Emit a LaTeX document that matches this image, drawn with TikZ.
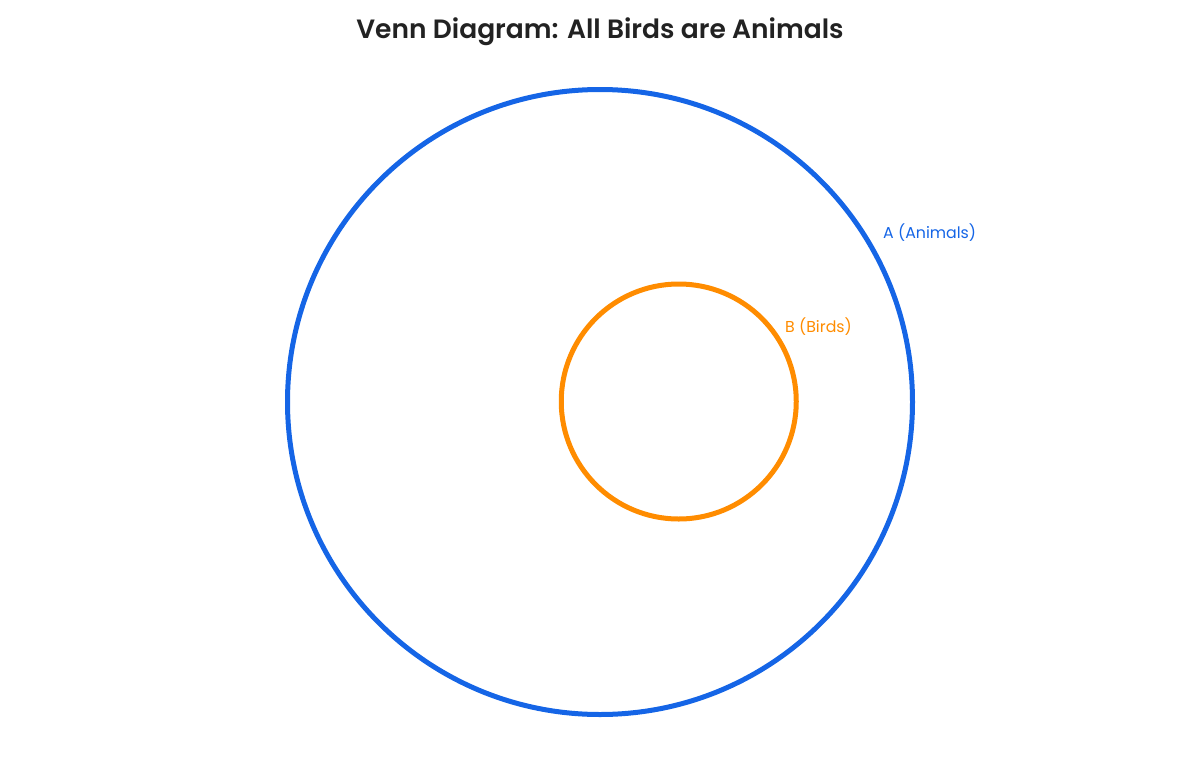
\documentclass[tikz,border=0pt]{standalone}
\usepackage{fontspec}
\setmainfont{Poppins}[BoldFont={Poppins SemiBold}]
\definecolor{animalblue}{HTML}{1565E6}
\definecolor{birdorange}{HTML}{FF8C00}
\definecolor{titlegray}{HTML}{222222}
\begin{document}
\begin{tikzpicture}[x=1pt,y=-1pt,
  setcircle/.style={draw, line width=5pt, fill=none},
  labeltext/.style={anchor=base west, inner sep=0pt, font=\fontsize{15.8}{19}\selectfont}]
\useasboundingbox (0,0) rectangle (1200,763);
\node[anchor=base, inner sep=0pt, text=titlegray, font=\fontsize{26.5}{32}\selectfont\bfseries] (title) at (600,38.3) {Venn Diagram: All Birds are Animals};
\draw[setcircle, animalblue] (600,402) circle[radius=312.5];
\coordinate (Acenter) at (600,402);
\draw[setcircle, birdorange] (678.75,401.5) circle[radius=117.5];
\coordinate (Bcenter) at (678.75,401.5);
\node[labeltext, text=animalblue] (labelA) at (883,238.7) {A (Animals)};
\node[labeltext, text=birdorange] (labelB) at (785,332.3) {B (Birds)};
\end{tikzpicture}
\end{document}
